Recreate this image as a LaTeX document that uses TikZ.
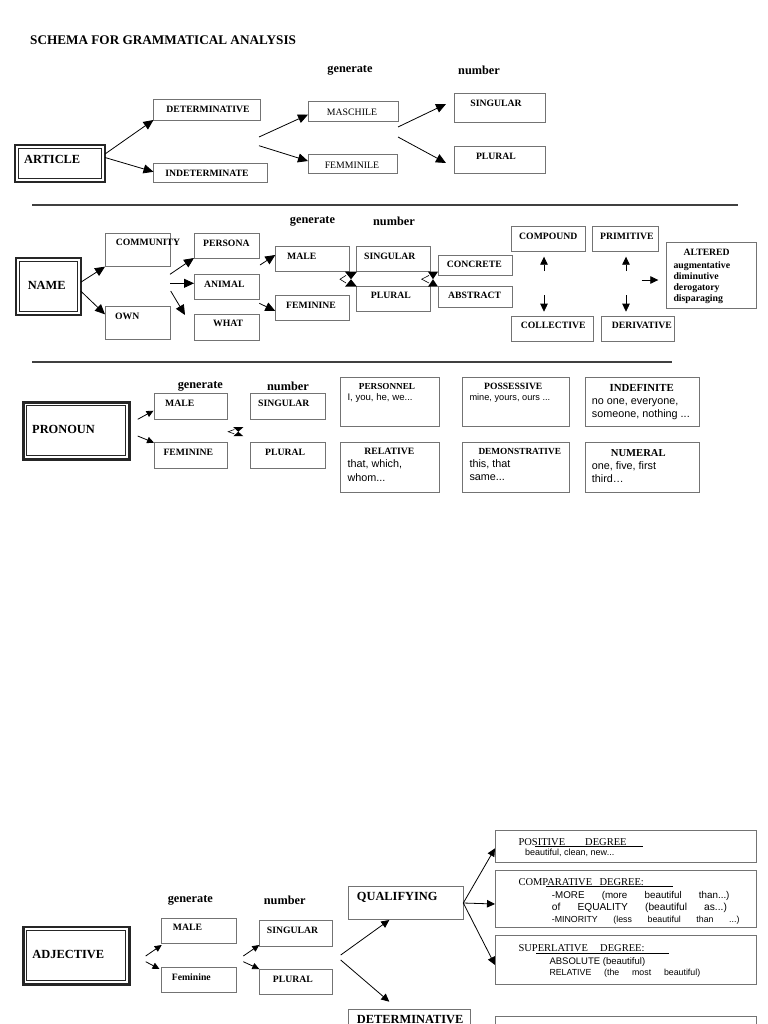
\documentclass[tikz,border=0pt]{standalone}
\usepackage{fontspec}
\setmainfont{Liberation Serif}
\setsansfont{Liberation Sans}
\usetikzlibrary{arrows.meta}
\newcommand\mybox[5]{\node[box,minimum width={(#4-#2)*1bp},minimum height={(#5-#3)*1bp}] (#1) at ({(#2+#4)/2},{(#3+#5)/2}) {};}
\newcommand\dbox[5]{\node[draw=black!85,line width=2.4bp,inner sep=0,outer sep=0,minimum width={(#4-#2)*1bp},minimum height={(#5-#3)*1bp}] (#1) at ({(#2+#4)/2},{(#3+#5)/2}) {};
\node[draw=black!85,line width=0.8bp,inner sep=0,outer sep=0,minimum width={(#4-#2-7)*1bp},minimum height={(#5-#3-7)*1bp}] (#1in) at (#1.center) {};}
\newcommand\hglass[6]{\begin{scope}[shift={(#1,#2)}]
\fill (-#3,-#4) -- (#3,-#4) -- (0,0) -- (#3,#4) -- (-#3,#4) -- (0,0) -- cycle;
\draw[line width=0.6bp] (-#3+1,-#6) -- (-#5,0) -- (-#3+1,#6);
\end{scope}}
\begin{document}
\begin{tikzpicture}[x=1bp,y=-1bp,
 box/.style={draw=black!55,line width=0.8bp,inner sep=0,outer sep=0},
 ttl/.style={font=\bfseries\fontsize{13.2bp}{15bp}\selectfont,inner sep=0,anchor=west},
 hdr/.style={font=\bfseries\fontsize{12.3bp}{14bp}\selectfont,inner sep=0},
 big/.style={font=\bfseries\fontsize{12.4bp}{14bp}\selectfont,inner sep=0,anchor=west},
 bigc/.style={font=\bfseries\fontsize{12.4bp}{14bp}\selectfont,inner sep=0},
 lab/.style={font=\bfseries\fontsize{9.7bp}{11bp}\selectfont,inner sep=0,anchor=west},
 labb/.style={font=\bfseries\fontsize{9.8bp}{11bp}\selectfont,inner sep=0,anchor=base west},
 labc/.style={font=\bfseries\fontsize{9.7bp}{11bp}\selectfont,inner sep=0},
 reg/.style={font=\fontsize{9.8bp}{11bp}\selectfont,inner sep=0},
 sfl/.style={font=\sffamily\fontsize{10.8bp}{12bp}\selectfont,inner sep=0,anchor=west},
 deg/.style={font=\fontsize{10.5bp}{12bp}\selectfont,inner sep=0,anchor=west},
 arrA/.style={-{Triangle[length=10bp,width=9bp]},line width=0.8bp},
 arrB/.style={-{Triangle[length=8bp,width=7.5bp]},line width=0.8bp},
 arrC/.style={-{Triangle[length=7bp,width=6.5bp]},line width=0.8bp},
 rulel/.style={line width=1.5bp,black!75},
 ul/.style={line width=0.7bp}]
\useasboundingbox (0,0) rectangle (768,1024);
\clip (0,0) rectangle (768,1024);
\fill[white] (0,0) rectangle (768,1024);

% ---------------- ARTICLE
\node[ttl] (title) at (30,40) {SCHEMA FOR GRAMMATICAL ANALYSIS};
\node[hdr] (gA) at (350,70) {generate};
\node[hdr] (nA) at (479,70) {number};
\dbox{art}{15}{145}{105}{182}
\node[big] (artT) at (24,159) {ARTICLE};
\mybox{det}{153.5}{99}{260}{120}
\node[labc] (detT) at (208,109) {DETERMINATIVE};
\mybox{ind}{153.5}{163}{267}{182.5}
\node[labc] (indT) at (207,173) {INDETERMINATE};
\mybox{mas}{308}{101}{398}{121}
\node[reg] (masT) at (352,112) {MASCHILE};
\mybox{fem}{308}{154}{397}{173}
\node[reg] (femT) at (352,165) {FEMMINILE};
\mybox{sgA}{454}{93}{545}{122.5}
\node[labc] (sgAT) at (496,103) {SINGULAR};
\mybox{plA}{454}{146}{545}{173.5}
\node[labc] (plAT) at (496,156) {PLURAL};
\coordinate (a1) at (105,154);
\coordinate (a2) at (105,157.5);
\coordinate (a2t) at (153.5,171.8);
\coordinate (a3) at (259,137);
\coordinate (a3t) at (308,114.6);
\coordinate (a4) at (259,145.7);
\coordinate (a4t) at (308,161);
\coordinate (a5) at (398,127);
\coordinate (a5t) at (446,104);
\coordinate (a6) at (398,137);
\coordinate (a6t) at (446,163);
\draw[arrA] (a1) -- (det.south west);
\draw[arrA] (a2) -- (a2t);
\draw[arrA] (a3) -- (a3t);
\draw[arrA] (a4) -- (a4t);
\draw[arrA] (a5) -- (a5t);
\draw[arrA] (a6) -- (a6t);
\draw[rulel] (32,205) -- (738,205);

% ---------------- NAME
\node[hdr] (gN) at (312.5,221) {generate};
\node[hdr] (nN) at (394,221) {number};
\dbox{nm}{16}{258}{80.7}{315}
\node[bigc] (nmT) at (46.7,285) {NAME};
\mybox{com}{105}{233.3}{170.7}{266.7}
\node[lab] (comT) at (115.7,242.7) {COMMUNITY};
\mybox{own}{105}{306.7}{170.7}{339}
\node[lab] (ownT) at (115,316) {OWN};
\mybox{per}{194}{233}{259}{258}
\node[lab] (perT) at (203,243) {PERSONA};
\mybox{ani}{194}{274}{259}{299}
\node[lab] (aniT) at (204,284) {ANIMAL};
\mybox{wha}{194}{314}{259}{340}
\node[lab] (whaT) at (213,323.7) {WHAT};
\mybox{maN}{275}{246.7}{349}{271.7}
\node[lab] (maNT) at (287,256) {MALE};
\mybox{feN}{275}{295}{349}{320}
\node[lab] (feNT) at (286,305) {FEMININE};
\mybox{sgN}{356.7}{246.7}{430}{271}
\node[lab] (sgNT) at (364,256) {SINGULAR};
\mybox{plN}{356.7}{286.7}{430}{311.7}
\node[lab] (plNT) at (370.7,295.7) {PLURAL};
\mybox{con}{438}{255}{512.7}{275.7}
\node[lab] (conT) at (446.7,264.3) {CONCRETE};
\mybox{abs}{438}{286.7}{512.7}{307.7}
\node[lab] (absT) at (448,295.7) {ABSTRACT};
\mybox{cmp}{511.7}{226.7}{585}{251}
\node[lab] (cmpT) at (519,236) {COMPOUND};
\mybox{pri}{592.7}{226.7}{658}{251}
\node[lab] (priT) at (600,236) {PRIMITIVE};
\mybox{alt}{666}{242.7}{756}{308.3}
\node[labc] (altT) at (706.7,252.7) {ALTERED};
\node[labb] (alt1) at (673.3,268.5) {augmentative};
\node[labb] (alt2) at (673.3,279.2) {diminutive};
\node[labb] (alt3) at (673.3,290.2) {derogatory};
\node[labb] (alt4) at (673.3,301.2) {disparaging};
\mybox{col}{511.7}{316}{593.3}{341}
\node[lab] (colT) at (520.7,325.7) {COLLECTIVE};
\mybox{der}{601}{316}{674.3}{341}
\node[lab] (derT) at (611.7,325.7) {DERIVATIVE};
\hglass{351}{279.2}{6}{7.5}{11}{3.8}
\hglass{433}{279.2}{5}{7.5}{11.3}{3.8}
\coordinate (n1) at (80.7,282.3);
\coordinate (n2) at (80.7,291);
\coordinate (n2t) at (105,314.3);
\coordinate (n3) at (170,274.3);
\coordinate (n4) at (170,283.3);
\coordinate (n4t) at (194,283.3);
\coordinate (n5) at (170.7,291);
\coordinate (n5t) at (185,315);
\coordinate (n6) at (260,265);
\coordinate (n6t) at (275.3,255);
\coordinate (n7) at (259.3,303.3);
\coordinate (n7t) at (275.3,311);
\draw[arrA] (n1) -- (com.south west);
\draw[arrA] (n2) -- (n2t);
\draw[arrA] (n3) -- (per.south west);
\draw[arrA] (n4) -- (n4t);
\draw[arrA] (n5) -- (n5t);
\draw[arrA] (n6) -- (n6t);
\draw[arrA] (n7) -- (n7t);
\coordinate (v1) at (544,271); \coordinate (v1t) at (544,256.7);
\coordinate (v2) at (626,271); \coordinate (v2t) at (626,256.7);
\coordinate (v3) at (544,295); \coordinate (v3t) at (544,311.7);
\coordinate (v4) at (626,295); \coordinate (v4t) at (626,311.7);
\coordinate (v5) at (641.7,280); \coordinate (v5t) at (658.3,280);
\draw[arrB] (v1) -- (v1t);
\draw[arrB] (v2) -- (v2t);
\draw[arrB] (v3) -- (v3t);
\draw[arrB] (v4) -- (v4t);
\draw[arrB] (v5) -- (v5t);
\draw[rulel] (32,362) -- (672,362);

% ---------------- PRONOUN
\dbox{pro}{23.3}{402.3}{129.3}{459.3}
\node[big] (proT) at (32,429.3) {PRONOUN};
\node[hdr] (gP) at (200.3,386.7) {generate};
\node[hdr] (nP) at (288,386.7) {number};
\mybox{maP}{154}{393.3}{227.7}{419.3}
\node[lab] (maPT) at (165,403.3) {MALE};
\mybox{feP}{154}{442.7}{227.7}{468.3}
\node[lab] (fePT) at (163.3,452.7) {FEMININE};
\mybox{sgP}{250.7}{393.3}{325}{419.3}
\node[lab] (sgPT) at (258,403.3) {SINGULAR};
\mybox{plP}{250.7}{442.7}{325}{468.3}
\node[lab] (plPT) at (265,452.7) {PLURAL};
\hglass{238.3}{431.7}{5}{4.5}{10}{2.2}
\coordinate (p1) at (137.7,419.3);
\coordinate (p1t) at (153.5,410.7);
\coordinate (p2) at (137.7,436);
\draw[arrC] (p1) -- (p1t);
\draw[arrC] (p2) -- (feP.north west);
\mybox{psn}{340.7}{377.3}{439.3}{426.7}
\node[labc,font=\bfseries\fontsize{9.2bp}{11bp}\selectfont] (psnT) at (387,386.7) {PERSONNEL};
\node[sfl,font=\sffamily\fontsize{9.6bp}{11bp}\selectfont] (psn1) at (347.3,398.3) {I, you, he, we...};
\mybox{pos}{462.7}{377.3}{569.3}{426.7}
\node[labc,font=\bfseries\fontsize{9.6bp}{11bp}\selectfont] (posT) at (513.3,386.7) {POSSESSIVE};
\node[sfl,font=\sffamily\fontsize{9.2bp}{11bp}\selectfont] (pos1) at (469.3,397.7) {mine, yours, ours ...};
\mybox{idf}{585}{377.3}{699.3}{426.7}
\node[labc,font=\bfseries\fontsize{10.8bp}{12bp}\selectfont] (idfT) at (641.7,388.3) {INDEFINITE};
\node[sfl] (idf1) at (591.7,402.7) {no one, everyone,};
\node[sfl] (idf2) at (591.7,414.3) {someone, nothing ...};
\mybox{rel}{340.7}{442.7}{439.3}{492.7}
\node[labc,font=\bfseries\fontsize{9.7bp}{11bp}\selectfont] (relT) at (389.3,451.7) {RELATIVE};
\node[sfl] (rel1) at (347.3,464) {that, which,};
\node[sfl] (rel2) at (347.3,477.3) {whom...};
\mybox{dem}{462.7}{442.7}{569.3}{492.7}
\node[lab,font=\bfseries\fontsize{9.3bp}{11bp}\selectfont] (demT) at (478.3,451.7) {DEMONSTRATIVE};
\node[sfl] (dem1) at (469.3,464.3) {this, that};
\node[sfl] (dem2) at (469.3,477.3) {same...};
\mybox{num}{585}{442.7}{699.3}{492.7}
\node[labc,font=\bfseries\fontsize{10.6bp}{12bp}\selectfont] (numT) at (638.3,452.7) {NUMERAL};
\node[sfl] (num1) at (591.7,466) {one, five, first};
\node[sfl] (num2) at (591.7,478.3) {third…};

% ---------------- ADJECTIVE
\node[hdr] (gJ) at (190.3,900.7) {generate};
\node[hdr] (nJ) at (284.7,900.7) {number};
\dbox{adj}{23.3}{926.7}{129.3}{984.3}
\node[big] (adjT) at (32.3,954.3) {ADJECTIVE};
\mybox{maA}{161.7}{918.3}{236}{943.3}
\node[lab] (maAT) at (172.7,927.7) {MALE};
\mybox{feA}{161.7}{967.7}{236}{992.7}
\node[lab] (feAT) at (171.7,976.7) {Feminine};
\mybox{sgJ}{259.3}{920}{332.7}{946}
\node[lab] (sgJT) at (266.7,930) {SINGULAR};
\mybox{plJ}{259.3}{969.3}{332.7}{994.3}
\node[lab] (plJT) at (272.7,979.3) {PLURAL};
\mybox{qua}{348.3}{886.7}{463.3}{919.3}
\node[big] (quaT) at (356.7,897.7) {QUALIFYING};
\mybox{dtm}{348.3}{1009.3}{470.7}{1040}
\node[big] (dtmT) at (356.7,1019.5) {DETERMINATIVE};
\coordinate (j1) at (145.7,956); \coordinate (j1t) at (161.7,945);
\coordinate (j2) at (145.7,961.7); \coordinate (j2t) at (159.5,969);
\coordinate (j3) at (243.3,956); \coordinate (j3t) at (259.3,945);
\coordinate (j4) at (243.3,961.7); \coordinate (j4t) at (259.3,969);
\coordinate (j5) at (340.7,955); \coordinate (j5t) at (389.3,920);
\coordinate (j6) at (340.7,960); \coordinate (j6t) at (389.3,1001.7);
\draw[arrC] (j1) -- (j1t);
\draw[arrC] (j2) -- (j2t);
\draw[arrC] (j3) -- (j3t);
\draw[arrC] (j4) -- (j4t);
\draw[arrB] (j5) -- (j5t);
\draw[arrB] (j6) -- (j6t);
\mybox{posd}{495}{830}{756}{862.7}
\mybox{comd}{495}{870}{756}{927.7}
\mybox{supd}{495}{935.7}{756}{984.3}
\mybox{botd}{495}{1016}{756}{1040}
\coordinate (q1t) at (495,848.3);
\coordinate (q2t) at (495,904);
\coordinate (q3t) at (495,965);
\draw[arrB] (qua.east) -- (q1t);
\draw[arrB] (qua.east) -- (q2t);
\draw[arrB] (qua.east) -- (q3t);
% positive
\node[deg] (posd1) at (518.3,841.7) {POSITIVE};
\node[deg] (posd2) at (585,841.7) {DEGREE};
\draw[ul] (535,846.3) -- (642.7,846.3);
\node[sfl,font=\sffamily\fontsize{9bp}{11bp}\selectfont] (posd3) at (525,853) {beautiful, clean, new...};
% comparative
\node[deg] (comd1) at (518.3,881.7) {COMPARATIVE};
\node[deg] (comd2) at (599.3,881.7) {DEGREE:};
\draw[ul] (545.7,886.3) -- (672.7,886.3);
\node[sfl,font=\sffamily\fontsize{9.8bp}{11bp}\selectfont] (comd3) at (551.7,896) {\makebox[177.6bp][s]{-MORE (more beautiful than...)}};
\node[sfl,font=\sffamily\fontsize{10.2bp}{11bp}\selectfont] (comd4) at (551.7,907.7) {\makebox[175bp][s]{of EQUALITY (beautiful as...)}};
\node[sfl,font=\sffamily\fontsize{8.8bp}{10bp}\selectfont] (comd5) at (551.7,920) {\makebox[187.6bp][s]{-MINORITY (less beautiful than ...)}};
% superlative
\node[deg] (supd1) at (518.3,948.3) {SUPERLATIVE};
\node[deg] (supd2) at (600,948.3) {DEGREE:};
\draw[ul] (536,953) -- (669.3,953);
\node[sfl,font=\sffamily\fontsize{9.5bp}{11bp}\selectfont] (supd3) at (549.3,961.7) {\makebox[95.7bp][s]{ABSOLUTE (beautiful)}};
\node[sfl,font=\sffamily\fontsize{8.8bp}{10bp}\selectfont] (supd4) at (549.3,973.3) {\makebox[150.7bp][s]{RELATIVE (the most beautiful)}};
\end{tikzpicture}
\end{document}
